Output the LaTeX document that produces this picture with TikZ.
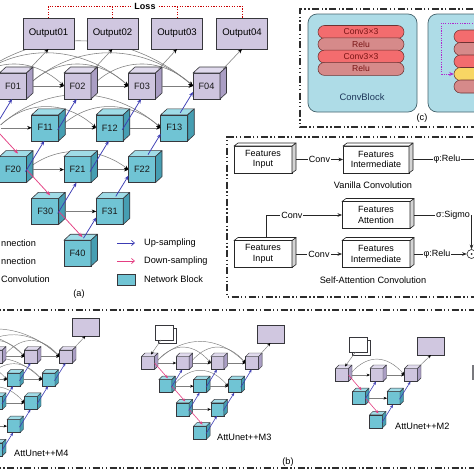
\documentclass[tikz,border=0pt]{standalone}
\usepackage{fontspec}
\setmainfont{Liberation Sans}
\usetikzlibrary{calc,arrows.meta}
\pgfdeclarelayer{bg}
\pgfsetlayers{bg,main}

\definecolor{frontL}{RGB}{206,197,223}
\definecolor{topL}{RGB}{224,218,237}
\definecolor{sideL}{RGB}{170,158,196}
\definecolor{frontT}{RGB}{112,196,212}
\definecolor{topT}{RGB}{160,220,231}
\definecolor{sideT}{RGB}{70,158,178}
\definecolor{edgec}{RGB}{55,55,60}
\definecolor{outfill}{RGB}{208,199,224}
\definecolor{upc}{RGB}{60,60,180}
\definecolor{downc}{RGB}{228,62,130}
\definecolor{grayl}{RGB}{125,125,125}
\definecolor{lossc}{RGB}{200,0,0}
\definecolor{blockfill}{RGB}{174,220,231}
\definecolor{blockedge}{RGB}{70,100,110}
\definecolor{convc}{RGB}{243,108,110}
\definecolor{reluc}{RGB}{214,138,138}
\definecolor{yelc}{RGB}{248,214,100}
\definecolor{pilledge}{RGB}{110,50,50}
\definecolor{layertext}{RGB}{120,20,20}
\definecolor{blocktext}{RGB}{30,55,90}
\definecolor{purpc}{RGB}{175,40,205}
\definecolor{framec}{RGB}{45,45,45}
\definecolor{boxside}{RGB}{212,212,212}
\definecolor{slivc}{RGB}{120,120,125}

\tikzset{
  bigcube/.style={draw=edgec, line width=0.6pt, minimum width=27pt, minimum height=26pt, inner sep=0pt, outer sep=0pt, text=black!90},
  smcube/.style={draw=edgec, line width=0.45pt, minimum width=13pt, minimum height=13pt, inner sep=0pt, outer sep=0pt},
  cubeface/.style={draw=edgec, line width=0.6pt, line join=round},
  smface/.style={draw=edgec, line width=0.45pt, line join=round},
  outbox/.style={draw=edgec, fill=outfill, line width=0.6pt, minimum width=51pt, minimum height=31pt, inner sep=0pt, outer sep=0pt, font=\fontsize{9.6}{11}\selectfont},
  soutbox/.style={draw=edgec, fill=outfill, line width=0.5pt, minimum width=27pt, minimum height=18pt, inner sep=0pt, outer sep=0pt},
  inbox/.style={draw=edgec, fill=white, line width=0.5pt, minimum width=18pt, minimum height=15pt, inner sep=0pt, outer sep=0pt},
  gline/.style={draw=grayl, line width=0.55pt, -{Stealth[length=4.5pt,width=3.6pt,color=black]}},
  garc/.style={draw=grayl, line width=0.55pt, -{Stealth[length=4.5pt,width=3.6pt,color=black]}},
  upline/.style={draw=upc, line width=0.75pt, -{Stealth[length=4.5pt,width=3.6pt]}},
  downline/.style={draw=downc, line width=0.75pt, -{Stealth[length=4.5pt,width=3.6pt]}},
  sgline/.style={draw=grayl, line width=0.45pt, -{Stealth[length=3.4pt,width=2.8pt,color=black]}},
  sgarc/.style={draw=grayl, line width=0.45pt, -{Stealth[length=3.4pt,width=2.8pt,color=black]}},
  smup/.style={draw=upc, line width=0.6pt, -{Stealth[length=3.4pt,width=2.8pt]}},
  smdown/.style={draw=downc, line width=0.6pt, -{Stealth[length=3.4pt,width=2.8pt]}},
  legup/.style={draw=upc, line width=0.7pt, -{Straight Barb[length=3pt,width=5pt]}},
  legdown/.style={draw=downc, line width=0.7pt, -{Straight Barb[length=3pt,width=5pt]}},
  lossline/.style={draw=lossc, line width=1pt, dash pattern=on 1.3pt off 1.3pt},
  framedd/.style={draw=framec, line width=1.3pt, dash pattern=on 7pt off 2.5pt on 1.3pt off 2.5pt on 1.3pt off 2.5pt},
  featb/.style={draw=black!85, fill=white, line width=0.6pt, minimum height=27pt, inner sep=0pt, outer sep=0pt, align=center, font=\fontsize{9}{10.5}\selectfont},
  featface/.style={draw=black!85, line width=0.6pt, line join=round},
  clabel/.style={fill=white, inner sep=1pt, font=\fontsize{9}{10}\selectfont},
  carrow/.style={draw=black!85, line width=0.6pt, -{Stealth[length=4.5pt,width=3.6pt]}},
  cline/.style={draw=black!85, line width=0.6pt},
  odot/.style={circle, draw=black!85, line width=0.6pt, minimum size=9pt, inner sep=0pt, path picture={\fill[black!85] (path picture bounding box.center) circle (1pt);}},
  blockbg/.style={draw=blockedge, fill=blockfill, line width=0.7pt, rounded corners=9pt},
  pill/.style={draw=pilledge, line width=0.55pt, minimum width=86pt, minimum height=13pt, rounded corners=6.5pt, inner sep=0pt, text=layertext, font=\fontsize{8.6}{10}\selectfont},
  purp/.style={draw=purpc, line width=1pt, dash pattern=on 1.2pt off 1.2pt, -{Stealth[length=4.5pt,width=4pt,color=purpc]}},
  legtext/.style={inner sep=1pt, font=\fontsize{9.2}{11}\selectfont},
}

\newcommand{\bigcubeat}[5]{%
  \node[bigcube, fill=front#5] (#1) at (#2,#3) {#4};
  \draw[cubeface, fill=top#5] (#1.north west) -- ++(6.5,-6) -- ++(27,0) -- (#1.north east) -- cycle;
  \draw[cubeface, fill=side#5] (#1.north east) -- ++(6.5,-6) -- ++(0,26) -- (#1.south east) -- cycle;
}
\newcommand{\smcubeat}[4]{%
  \node[smcube, fill=front#4] (#1) at (#2,#3) {};
  \draw[smface, fill=top#4] (#1.north west) -- ++(3.5,-3.5) -- ++(13,0) -- (#1.north east) -- cycle;
  \draw[smface, fill=side#4] (#1.north east) -- ++(3.5,-3.5) -- ++(0,13) -- (#1.south east) -- cycle;
}
\newcommand{\featbox}[5]{%
  \node[featb, minimum width=#4pt] (#1) at (#2,#3) {#5};
  \draw[featface, fill=boxside] (#1.north east) -- ++(4,-3) -- ++(0,27) -- (#1.south east) -- cycle;
  \draw[featface, fill=white] (#1.north west) -- ++(4,-3) -- ++(#4,0) -- (#1.north east) -- cycle;
}
% small network: prefix, x0, y0, levels, colstep, rowstep-x
\newcommand{\smallnet}[6]{%
  \pgfmathtruncatemacro{\Nm}{#4-1}
  \foreach \i in {0,...,\Nm}{
    \pgfmathtruncatemacro{\jm}{#4-1-\i}
    \foreach \j in {0,...,\jm}{
      \pgfmathsetmacro{\xx}{#2+#6*\i+#5*\j}
      \pgfmathsetmacro{\yy}{#3+23.2*\i}
      \ifnum\i=0 \smcubeat{#1-\i-\j}{\xx}{\yy}{L}\else\smcubeat{#1-\i-\j}{\xx}{\yy}{T}\fi
    }
  }
}
% small network edges: prefix, levels, colstep
\newcommand{\smalledges}[3]{%
  \pgfmathtruncatemacro{\Nm}{#2-1}
  \foreach \i in {0,...,\Nm}{
    \pgfmathtruncatemacro{\jm}{#2-1-\i}
    \ifnum\jm>0
      \foreach \j in {1,...,\jm}{
        \pgfmathtruncatemacro{\jp}{\j-1}
        \draw[sgline] ($(#1-\i-\jp.east)+(3.5,0)$) -- (#1-\i-\j.west);
      }
    \fi
    \ifnum\jm>1
      \foreach \j in {2,...,\jm}{
        \pgfmathtruncatemacro{\km}{\j-2}
        \foreach \kk in {0,...,\km}{
          \pgfmathsetmacro{\spn}{(\j-\kk)*#3-12}
          \pgfmathsetmacro{\hgt}{0.22*\spn+7}
          \pgfmathsetmacro{\ctl}{0.3*\spn}
          \begin{pgfonlayer}{bg}
            \draw[sgarc] ($(#1-\i-\kk.east)+(2.5,-2)$) .. controls +(\ctl,-\hgt) and +(-\ctl,-\hgt) .. (#1-\i-\j.west);
          \end{pgfonlayer}
        }
      }
    \fi
    \ifnum\i<\Nm
      \pgfmathtruncatemacro{\ip}{\i+1}
      \draw[smdown] (#1-\i-0.east) -- ($(#1-\ip-0.north)+(2.5,-1.5)$);
    \fi
    \ifnum\i>0
      \pgfmathtruncatemacro{\iu}{\i-1}
      \foreach \j in {0,...,\jm}{
        \pgfmathtruncatemacro{\ju}{\j+1}
        \draw[smup] ($(#1-\i-\j.east)+(-0.5,1)$) -- ($(#1-\iu-\ju.south)+(-0.5,0)$);
      }
    \fi
  }
}

\begin{document}
\begin{tikzpicture}[x=1pt,y=-1pt,every node/.style={font=\fontsize{9.2}{11}\selectfont}]
\useasboundingbox (0,0) rectangle (474,474);
\begin{pgfonlayer}{bg}
\fill[white] (0,0) rectangle (474,474);
\end{pgfonlayer}
\clip (0,0) rectangle (474,474);

% ================= (a) =================
\foreach \i/\j in {0/1,0/2,0/3,0/4,1/1,1/2,1/3,2/0,2/1,2/2,3/0,3/1,4/0}{
  \pgfmathsetmacro{\xx}{-51.5+32.25*\i+64.5*\j}
  \pgfmathsetmacro{\yy}{86+41.8*\i}
  \ifnum\i=0 \bigcubeat{F\i\j}{\xx}{\yy}{F\i\j}{L}\else\bigcubeat{F\i\j}{\xx}{\yy}{F\i\j}{T}\fi
}
\coordinate (F00) at (-51.5,86);
\coordinate (F10) at (-19.25,127.8);

\node[outbox] (Out01) at (48.5,33.5) {Output01};
\node[outbox] (Out02) at (112.5,33.5) {Output02};
\node[outbox] (Out03) at (177,33.5) {Output03};
\node[outbox] (Out04) at (242,33.5) {Output04};

\coordinate (lossy) at (0,6);
\draw[lossline] (Out01.north) -- (Out01.north |- lossy) -- (Out04.north |- lossy) -- (Out04.north);
\draw[lossline] (Out02.north) -- (Out02.north |- lossy);
\draw[lossline] (Out03.north) -- (Out03.north |- lossy);
\node[fill=white, inner sep=1.5pt, font=\bfseries\fontsize{9}{10}\selectfont] (loss) at (145,6) {Loss};

% dense skip arcs (behind)
\coordinate (S00) at ($(F00)+(20,-3)$);
\coordinate (S10) at ($(F10)+(20,-3)$);
\coordinate (S01) at ($(F01.east)+(4,-3)$);
\coordinate (S02) at ($(F02.east)+(4,-3)$);
\coordinate (S11) at ($(F11.east)+(4,-3)$);
\coordinate (S20) at ($(F20.east)+(4,-3)$);
\begin{pgfonlayer}{bg}
\clip (0,0) rectangle (474,474);
\foreach \src/\tgt/\hgt/\ctl in {S00/F02/27/29, S00/F03/42/48, S00/F04/58/67, S01/F03/27/29, S01/F04/42/49, S02/F04/27/29, S10/F12/26/29, S10/F13/42/48, S11/F13/26/29, S20/F22/22/29}
  \draw[garc] (\src) .. controls +(\ctl,-\hgt) and +(-\ctl,-\hgt) .. (\tgt.west);
\end{pgfonlayer}

% straight skip connections
\draw[gline] ($(F10)+(20,0)$) -- (F11.west);
\foreach \src/\tgt in {F01/F02,F02/F03,F03/F04,F11/F12,F12/F13,F20/F21,F21/F22,F30/F31}
  \draw[gline] ($(\src.east)+(6.5,0)$) -- (\tgt.west);

% outputs
\foreach \j in {1,2,3,4}
  \draw[gline] ($(F0\j.north east)+(3,-4)$) -- (Out0\j.south);

% down-sampling
\draw[downline] ($(F10)+(13.5,0)$) -- ($(F20.north)+(5,-3)$);
\draw[downline] (F20.east) -- ($(F30.north)+(5,-3)$);
\draw[downline] (F30.east) -- ($(F40.north)+(5,-3)$);

% up-sampling
\draw[upline] ($(F10)+(12.5,2)$) -- ($(F01.south)+(-1,0)$);
\foreach \src/\tgt in {F20/F11,F11/F02,F30/F21,F21/F12,F12/F03}
  \draw[upline] ($(\src.east)+(-1,2)$) -- ($(\tgt.south)+(-1,0)$);
\foreach \src/\tgt in {F40/F31,F31/F22,F22/F13,F13/F04}
  \draw[upline] ($(\src.north)+(6,-2)$) -- ($(\tgt.west)+(0,6)$);

% legend
\node[legtext, anchor=west] (tc1) at (0,243) {nnection};
\node[legtext, anchor=west] (tc2) at (0,261) {nnection};
\node[legtext, anchor=west] (tc3) at (0,279.5) {Convolution};
\coordinate (lu1) at (117,243); \coordinate (lu2) at (135,243);
\coordinate (ld1) at (117,261); \coordinate (ld2) at (135,261);
\draw[legup] (lu1) -- (lu2);
\draw[legdown] (ld1) -- (ld2);
\node[draw=edgec, fill=frontT, line width=0.6pt, minimum width=18pt, minimum height=11pt, inner sep=0pt] (swatch) at (126,279.5) {};
\node[legtext, anchor=west] (tup) at (143,243) {Up-sampling};
\node[legtext, anchor=west] (tdown) at (143,261) {Down-sampling};
\node[legtext, anchor=west] (tnb) at (143,279.5) {Network Block};
\node (alab) at (79,294) {(a)};

% ================= (c) =================
\draw[framedd] (490,9) -- (300,9) -- (300,127) -- (490,127);
\node[blockbg, minimum width=109pt, minimum height=98pt, inner sep=0pt] (cb1) at (362.5,63) {};
\node[pill, fill=convc] (c1a) at (361,32) {Conv3×3};
\node[pill, fill=reluc] (c1b) at (361,44.3) {Relu};
\node[pill, fill=convc] (c1c) at (361,56.6) {Conv3×3};
\node[pill, fill=reluc] (c1d) at (361,68.9) {Relu};
\node[text=blocktext, font=\fontsize{9.4}{11}\selectfont] (cbt) at (362,97) {ConvBlock};
\draw[blockbg] (428,14) rectangle (545,112);
\node[pill, fill=convc] (c2a) at (497,36.5) {};
\node[pill, fill=reluc] (c2b) at (497,49) {};
\node[pill, fill=convc] (c2c) at (497,61.5) {};
\node[pill, fill=yelc] (c2d) at (497,74) {};
\node[pill, fill=reluc] (c2e) at (497,86.5) {};
\coordinate (pst) at (480,23);
\draw[purp] (pst) -| ($(c2d.west)+(-12,0)$) -- (c2d.west);
\node (clab) at (422,118) {(c)};

% ================= convolution panel =================
\draw[framedd] (490,137) -- (227,137) -- (227,297) -- (490,297);
\featbox{vin}{263}{159.5}{58}{Features\\Input}
\featbox{vmid}{376}{159.5}{66}{Features\\Intermediate}
\draw[carrow] ($(vin.east)+(4,0)$) -- node[clabel]{Conv} (vmid.west);
\coordinate (vend) at (490,159.5);
\draw[cline] ($(vmid.east)+(4,0)$) -- (vend);
\node[clabel] (vrelu) at (447,159.5) {φ:Relu};
\node (vtitle) at (373,185) {Vanilla Convolution};

\featbox{sin}{263}{254}{58}{Features\\Input}
\featbox{satt}{376}{215}{68}{Features\\Attention}
\featbox{smid}{376}{254}{68}{Features\\Intermediate}
\draw[carrow] ($(sin.north)+(3,-3)$) |- node[clabel, pos=0.67]{Conv} (satt.west);
\draw[carrow] ($(sin.east)+(4,0)$) -- node[clabel]{Conv} (smid.west);
\node[odot] (prod) at (471.5,254) {};
\draw[carrow] ($(satt.east)+(4,0)$) -| (prod.north);
\node[clabel, anchor=west] (ssig) at (435,215) {σ:Sigmo};
\draw[carrow] ($(smid.east)+(4,0)$) -- (prod.west);
\node[clabel] (srelu) at (437,254) {φ:Relu};
\node (stitle) at (373,280) {Self-Attention Convolution};

% ================= (b) =================
\draw[framedd] (-10,310) -- (484,310);
\draw[framedd] (-10,468) -- (484,468);
\smallnet{pa}{-74}{356.5}{5}{35}{17.5}
\smallnet{pb}{148}{363}{4}{34.7}{17.35}
\smallnet{pc}{342}{375}{3}{34.5}{17}
\smalledges{pa}{5}{35}
\smalledges{pb}{4}{34.7}
\smalledges{pc}{3}{34.5}

\node[soutbox] (paout) at (85.5,327) {};
\node[soutbox] (pbout) at (270.5,334) {};
\node[soutbox] (pcout) at (431,346) {};
\draw[sgline] ($(pa-0-4.north east)+(1.5,-2)$) -- (paout.south);
\draw[sgline] ($(pb-0-3.north east)+(1.5,-2)$) -- (pbout.south);
\draw[sgline] ($(pc-0-2.north east)+(1.5,-2)$) -- (pcout.south);

\node[inbox] (pbinb) at (167,335.5) {};
\node[inbox] (pbin) at (164,332.5) {};
\node[inbox] (pcinb) at (361.5,347.5) {};
\node[inbox] (pcin) at (358.5,344.5) {};
\draw[sgline] ($(pbin.south)+(-3,0)$) -- ($(pb-0-0.north)+(3,-2)$);
\draw[sgline] ($(pcin.south)+(-3,0)$) -- ($(pc-0-0.north)+(3,-2)$);

\node[anchor=west, inner sep=1pt] (m4t) at (13,453) {AttUnet++M4};
\node[anchor=west, inner sep=1pt] (m3t) at (216,437) {AttUnet++M3};
\node[anchor=west, inner sep=1pt] (m2t) at (394,426) {AttUnet++M2};
\node (blab) at (288,462) {(b)};
\fill[slivc] (472,365) rectangle (476,380);
\end{tikzpicture}
\end{document}
